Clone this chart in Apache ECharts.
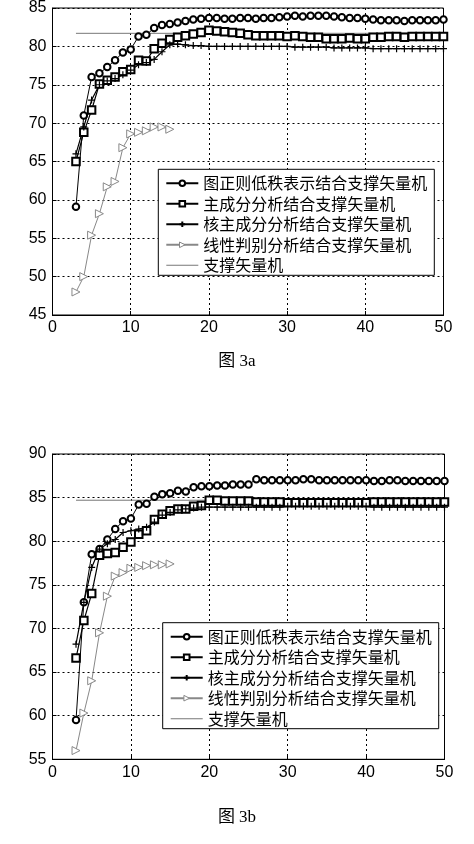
<!DOCTYPE html>
<html><head><meta charset="utf-8">
<script src="https://cdn.jsdelivr.net/npm/echarts@6/dist/echarts.min.js"></script>
<style>html,body{margin:0;padding:0;background:#fff}#c{width:474px;height:844px}</style>
</head><body><div id="c"></div>
<script>
const names = ['图正则低秩表示结合支撑矢量机','主成分分析结合支撑矢量机','核主成分分析结合支撑矢量机','线性判别分析结合支撑矢量机','支撑矢量机'];
const dims = [3,4,5,6,7,8,9,10,11,12,13,14,15,16,17,18,19,20,21,22,23,24,25,26,27,28,29,30,31,32,33,34,35,36,37,38,39,40,41,42,43,44,45,46,47,48,49,50];
const ldaDims = [3,4,5,6,7,8,9,10,11,12,13,14,15];
const svmDims = [3,50];
const xTicks = [0,10,20,30,40,50];
const yTicksA = [45,50,55,60,65,70,75,80,85];
const yTicksB = [55,60,65,70,75,80,85,90];

// Figure 3a
const grlrA = [59.1,71.0,76.0,76.5,77.3,78.2,79.2,79.6,81.3,81.5,82.4,82.8,82.9,83.1,83.3,83.5,83.6,83.7,83.7,83.6,83.6,83.7,83.7,83.6,83.7,83.7,83.8,83.9,84.0,83.9,84.0,84.0,84.0,83.9,83.8,83.7,83.7,83.6,83.5,83.4,83.4,83.4,83.3,83.4,83.4,83.4,83.4,83.5];
const pcaA = [65.0,68.8,71.7,75.1,75.6,76.0,76.7,77.0,78.2,78.1,79.7,80.4,80.9,81.2,81.4,81.6,81.8,82.1,82.0,81.9,81.8,81.7,81.5,81.4,81.4,81.4,81.4,81.3,81.4,81.3,81.2,81.2,81.0,81.0,81.0,81.1,81.0,81.0,81.2,81.2,81.3,81.3,81.2,81.3,81.3,81.3,81.3,81.3];
const kpcaA = [66.0,69.5,73.0,75.0,75.5,75.8,76.3,76.9,77.6,77.9,78.3,79.3,80.2,80.3,80.2,80.1,80.1,80.0,80.0,80.0,80.0,80.0,80.0,80.0,80.0,80.0,80.0,80.0,79.9,79.9,79.9,79.9,79.9,79.8,79.8,79.8,79.8,79.8,79.7,79.7,79.7,79.7,79.7,79.7,79.7,79.7,79.7,79.7];
const ldaA = [48.0,50.0,55.4,58.2,61.7,62.4,66.8,68.6,68.8,69.0,69.5,69.5,69.2];
const svmA = [81.7,81.7];

// Figure 3b
const grlrB = [59.5,73.0,78.5,79.1,80.2,81.4,82.3,82.6,84.2,84.3,85.1,85.4,85.5,85.8,85.7,86.2,86.3,86.3,86.4,86.4,86.5,86.5,86.5,87.1,87.0,87.0,87.0,87.0,87.0,87.1,87.1,87.0,87.0,87.0,87.0,87.0,87.0,87.0,86.9,86.9,87.0,87.0,86.9,86.9,86.9,86.9,86.9,86.9];
const pcaB = [66.6,70.9,74.0,78.4,78.6,78.7,79.3,79.9,80.8,81.2,82.5,83.1,83.5,83.7,83.7,84.0,84.1,84.7,84.7,84.6,84.6,84.6,84.6,84.5,84.5,84.5,84.5,84.4,84.4,84.4,84.4,84.4,84.4,84.4,84.4,84.4,84.4,84.4,84.5,84.5,84.5,84.5,84.5,84.5,84.5,84.5,84.5,84.5];
const kpcaB = [68.2,73.0,77.0,79.1,79.7,80.2,81.0,81.2,81.4,81.6,82.2,83.0,83.3,83.6,83.7,83.8,83.9,83.9,83.9,83.9,83.9,83.9,83.9,83.9,83.9,83.9,83.9,84.0,84.0,84.0,84.0,84.0,84.0,84.0,84.0,84.0,84.0,84.0,83.9,83.9,83.9,83.9,83.9,83.9,83.9,83.9,83.9,83.9];
const ldaB = [56.0,60.3,64.0,69.5,73.7,76.0,76.4,76.9,77.0,77.2,77.3,77.3,77.4];
const svmB = [84.7,84.7];

const pair = (xs, ys) => xs.map((x, i) => [x, ys[i]]);
const plusSym = 'path://M0,5L10,5M5,0L5,10';
const triSym = 'path://M0,0L10,5L0,10Z';
const lineIcon = 'path://M0,0L100,0L100,3L0,3Z';

function seriesFor(idx, g, lda, svm) {
  return [
    {name: names[0], type:'line', xAxisIndex: idx, yAxisIndex: idx, data: pair(dims, g[0]),
     symbol:'emptyCircle', symbolSize:6.5, lineStyle:{color:'#000', width:1}, itemStyle:{color:'#000', borderWidth:1}},
    {name: names[1], type:'line', xAxisIndex: idx, yAxisIndex: idx, data: pair(dims, g[1]),
     symbol:'emptyRect', symbolSize:7.5, lineStyle:{color:'#000', width:1.2}, itemStyle:{color:'#000', borderWidth:1.2}},
    {name: names[2], type:'line', xAxisIndex: idx, yAxisIndex: idx, data: pair(dims, g[2]),
     symbol: plusSym, symbolSize:7, lineStyle:{color:'#000', width:1.2}, itemStyle:{color:'#000', borderColor:'#000', borderWidth:1.2}},
    {name: names[3], type:'line', xAxisIndex: idx, yAxisIndex: idx, data: pair(ldaDims, lda),
     symbol: triSym, symbolSize:8, lineStyle:{color:'#888', width:1}, itemStyle:{color:'#fff', borderColor:'#888', borderWidth:1}},
    {name: names[4], type:'line', xAxisIndex: idx, yAxisIndex: idx, data: pair(svmDims, svm),
     symbol:'none', lineStyle:{color:'#777', width:1}, itemStyle:{color:'#777'}, z:1}
  ];
}

const axisFont = {fontFamily:'Liberation Sans, Arial, sans-serif', fontSize:16, color:'#000'};
function xAx(i) {
  return {type:'value', gridIndex:i, min:0, max:50, interval:10,
    axisLine:{lineStyle:{color:'#000', width:1}}, axisTick:{inside:true, length:4, lineStyle:{color:'#000'}},
    axisLabel:Object.assign({margin:5}, axisFont),
    splitLine:{show:true, lineStyle:{color:'#000', type:[2,3], width:1}}};
}
function yAx(i, min, max) {
  return {type:'value', gridIndex:i, min:min, max:max, interval:5,
    axisLine:{show:true, lineStyle:{color:'#000', width:1}}, axisTick:{show:true, inside:true, length:4, lineStyle:{color:'#000'}},
    axisLabel:Object.assign({margin:6}, axisFont),
    splitLine:{show:true, lineStyle:{color:'#000', type:[2,3], width:1}}};
}
const legendData = names.map((n, i) => {
  if (i === 4) return {name: n, icon: lineIcon, itemStyle:{color:'#777'}};
  if (i === 3) return {name: n, itemStyle:{color:'#fff', borderColor:'#888', borderWidth:1}};
  return n;
});
const legendBase = {
  orient:'vertical', backgroundColor:'#fff', borderColor:'#000', borderWidth:1,
  padding:[6,7,2,7], itemWidth:32, itemHeight:7, itemGap:4.5, itemTextGap:5,
  textStyle:{fontFamily:'Noto Sans CJK SC, sans-serif', fontSize:16, lineHeight:16, color:'#000'},
  data:legendData, selectedMode:false
};

const chart = echarts.init(document.getElementById('c'), null, {renderer:'canvas'});
chart.setOption({
  animation:false,
  backgroundColor:'#fff',
  grid:[
    {left:52.5, top:6.7, width:391, height:308.3, show:true, borderColor:'#000', borderWidth:1, backgroundColor:'transparent'},
    {left:52.5, top:454, width:392, height:305.3, show:true, borderColor:'#000', borderWidth:1, backgroundColor:'transparent'}
  ],
  xAxis:[xAx(0), xAx(1)],
  yAxis:[yAx(0, yTicksA[0], yTicksA[yTicksA.length-1]), yAx(1, yTicksB[0], yTicksB[yTicksB.length-1])],
  legend:[
    Object.assign({left:158.3, top:169.3}, legendBase),
    Object.assign({left:162.7, top:622.7}, legendBase)
  ],
  graphic:[
    {type:'text', left:'center', top:353, style:{text:'图 3a', font:'17px "Liberation Serif", "Noto Sans CJK SC", serif', fill:'#000'}},
    {type:'text', left:'center', top:809, style:{text:'图 3b', font:'17px "Liberation Serif", "Noto Sans CJK SC", serif', fill:'#000'}}
  ],
  series: seriesFor(0, [grlrA, pcaA, kpcaA], ldaA, svmA).concat(seriesFor(1, [grlrB, pcaB, kpcaB], ldaB, svmB))
});
</script>
</body></html>
